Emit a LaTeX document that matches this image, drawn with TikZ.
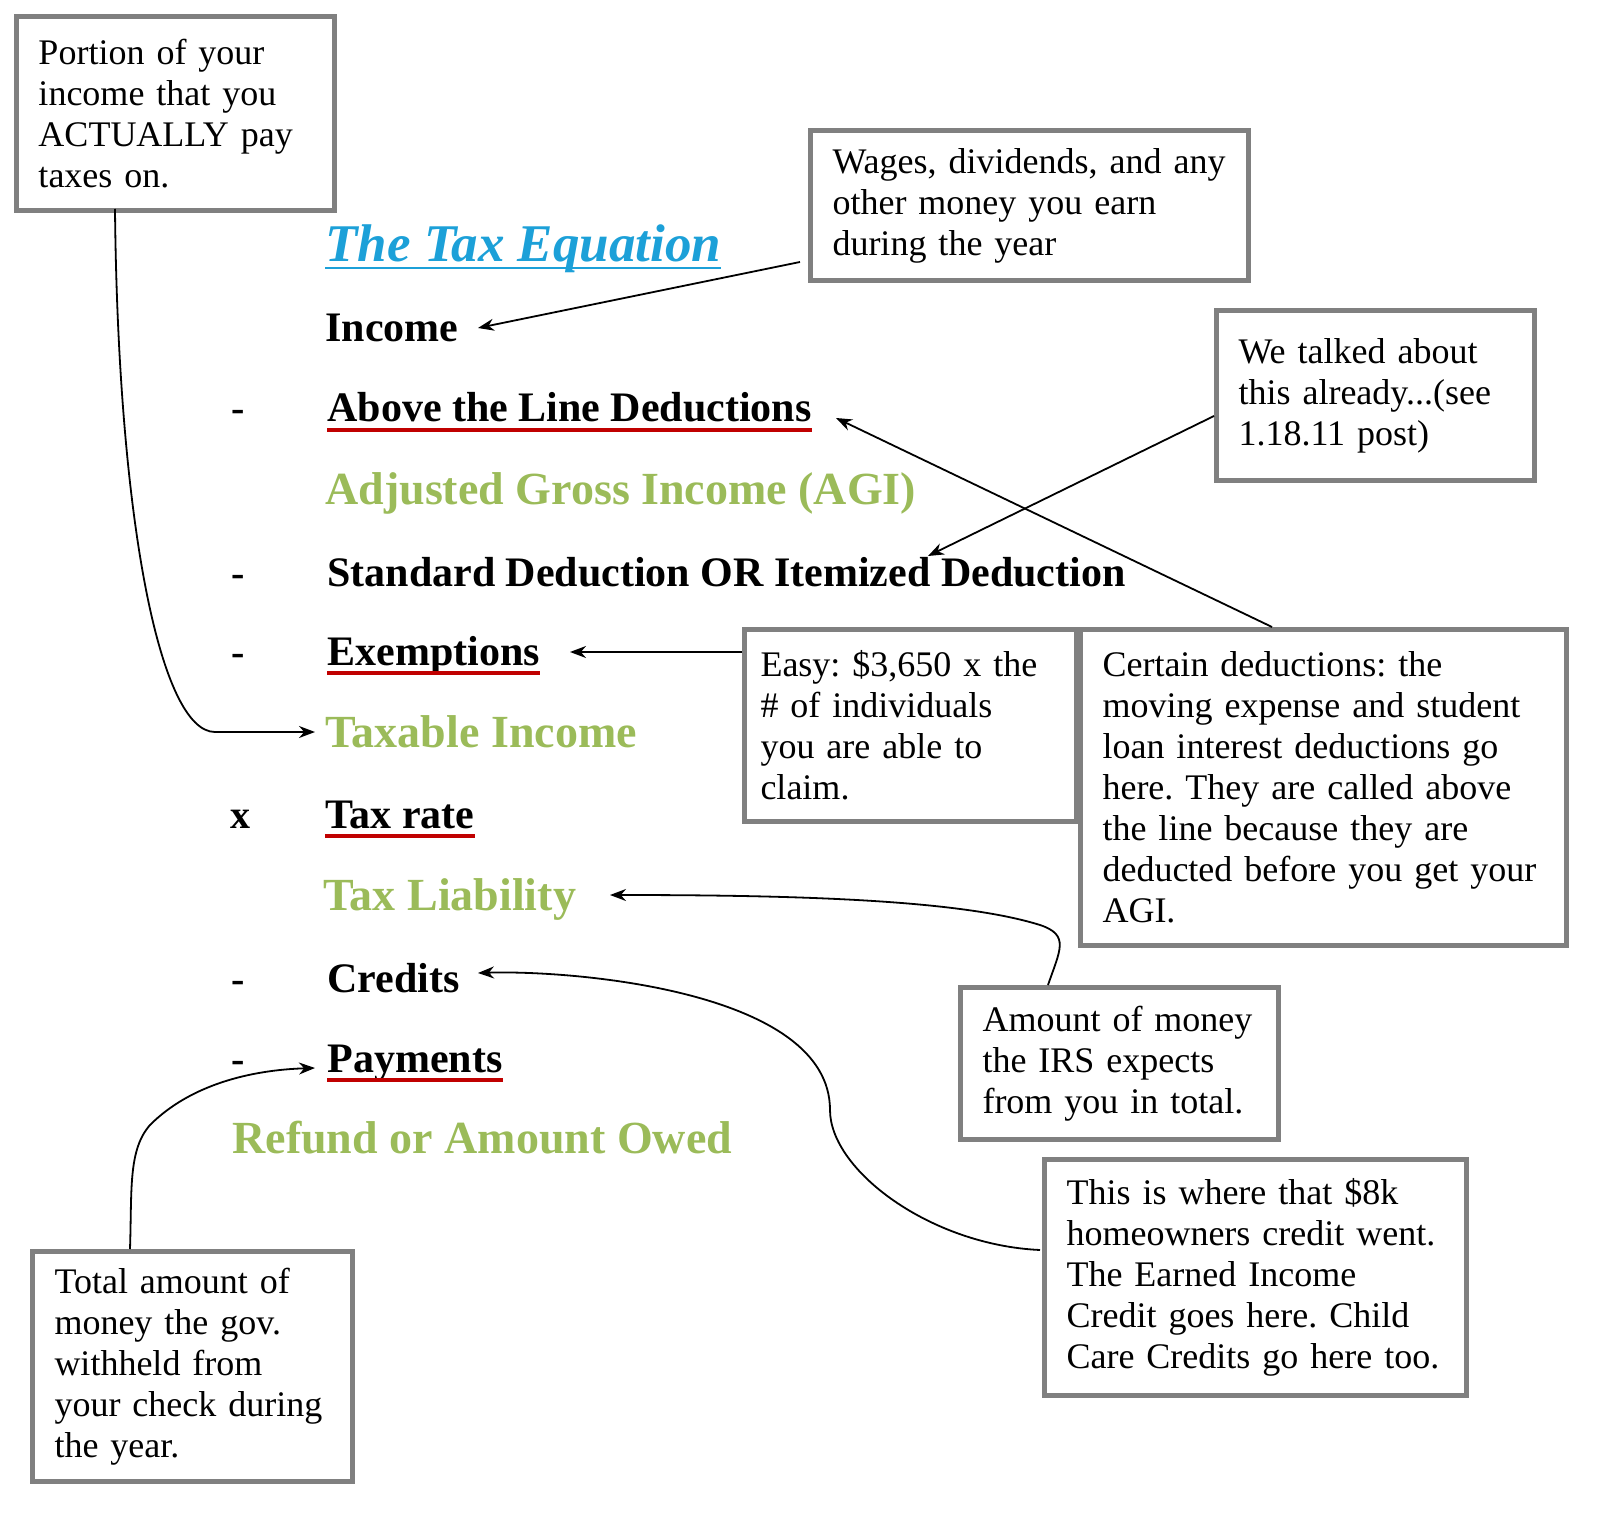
\documentclass[tikz,border=0pt]{standalone}
\usepackage{fontspec}
\setmainfont{Liberation Serif}
\usetikzlibrary{arrows.meta}
\frenchspacing
\definecolor{agreen}{RGB}{155,187,89}
\definecolor{tblue}{RGB}{28,160,216}
\definecolor{ured}{RGB}{192,0,0}
\definecolor{bgray}{RGB}{128,128,128}
\tikzset{
 note/.style={draw=bgray,line width=2.5pt,anchor=north west,inner xsep=11pt,inner ysep=6pt,align=left,font=\fontsize{18}{20.5}\selectfont},
 term/.style={anchor=base west,inner sep=0pt,font=\fontsize{21}{24}\selectfont\bfseries},
 gterm/.style={term,text=agreen,font=\fontsize{23}{26}\selectfont\bfseries},
 op/.style={anchor=base,inner sep=0pt,font=\fontsize{20}{24}\selectfont\bfseries},
 arr/.style={-{Stealth[length=8pt,width=6pt]},line width=0.9pt},
 uline/.style={ured,line width=1.6pt}
}
\begin{document}
\begin{tikzpicture}[x=0.5pt,y=-0.5pt]
\useasboundingbox (0,0) rectangle (1600,1513);
% notes
\node[note,minimum width=159pt,minimum height=97pt,text width=137pt] (b1) at (14,14) {Portion of your\\income that you\\ACTUALLY pay\\taxes on.};
\node[note,minimum width=219pt,minimum height=75pt,text width=197pt] (b2) at (808,128) {Wages, dividends, and any\\other money you earn\\during the year};
\node[note,minimum width=159pt,minimum height=85pt,text width=137pt] (b3) at (1214,308) {We talked about\\this already...(see\\1.18.11 post)};
\node[note,inner xsep=8pt,minimum width=159pt,minimum height=96pt,text width=150pt] (b4) at (742,627) {Easy: \$3,650 x the\\\# of individuals\\you are able to\\claim.};
\node[note,minimum width=243pt,minimum height=158pt,text width=221pt] (b5) at (1078,627) {Certain deductions: the\\moving expense and student\\loan interest deductions go\\here. They are called above\\the line because they are\\deducted before you get your\\AGI.};
\node[note,minimum width=159pt,minimum height=76pt,text width=137pt] (b6) at (958,985) {Amount of money\\the IRS expects\\from you in total.};
\node[note,minimum width=211pt,minimum height=118pt,text width=189pt] (b7) at (1042,1157) {This is where that \$8k\\homeowners credit went.\\The Earned Income\\Credit goes here. Child\\Care Credits go here too.};
\node[note,minimum width=160pt,minimum height=115pt,text width=138pt] (b8) at (30,1249) {Total amount of\\money the gov.\\withheld from\\your check during\\the year.};
% equation
\node[anchor=base west,inner sep=0pt,text=tblue,font=\fontsize{26.5}{30}\selectfont\bfseries\itshape] (title) at (325,262) {The Tax Equation};
\draw[tblue,line width=1.4pt] ([yshift=-3pt]title.base west) -- ([yshift=-3pt]title.base east);
\node[term] (inc) at (325,342) {Income};
\node[term] (atl) at (327,422) {Above the Line Deductions};
\node[gterm] (agi) at (325,505) {Adjusted Gross Income (AGI)};
\node[term] (std) at (327,586) {Standard Deduction OR Itemized Deduction};
\node[term] (ex) at (327,665) {Exemptions};
\node[gterm] (ti) at (325,747) {Taxable Income};
\node[term] (tr) at (325,828) {Tax rate};
\node[gterm] (tl) at (323,910) {Tax Liability};
\node[term] (cr) at (327,992) {Credits};
\node[term] (pay) at (327,1072) {Payments};
\node[gterm] (ref) at (232,1153) {Refund or Amount Owed};
\foreach \n in {atl,ex,tr,pay}{\draw[uline] ([yshift=-4pt]\n.base west) -- ([yshift=-4pt]\n.base east);}
\node[op] (o1) at (238,422) {-};
\node[op] (o2) at (238,586) {-};
\node[op] (o3) at (238,665) {-};
\node[op] (o4) at (240,828) {x};
\node[op] (o5) at (238,992) {-};
\node[op] (o6) at (238,1072) {-};
% arrows
\coordinate (c2) at (800,262);
\coordinate (t2) at (478,328);
\draw[arr] (c2) -- (t2);
\coordinate (c3) at (1214,416);
\coordinate (t3) at (928,556);
\draw[arr] (c3) -- (t3);
\coordinate (c5) at (1272,627);
\coordinate (t5) at (836,418);
\draw[arr] (c5) -- (t5);
\coordinate (c4) at (742,652);
\coordinate (t4) at (570,652);
\draw[arr] (c4) -- (t4);
\coordinate (c1) at (115,209);
\coordinate (t1) at (315,732);
\draw[arr] (c1) .. controls (118,520) and (160,732) .. (215,732) -- (t1);
\coordinate (c6) at (1048,985);
\coordinate (t6) at (610,895);
\draw[arr] (c6) .. controls (1060,950) and (1070,935) .. (1040,925) .. controls (960,900) and (800,895) .. (t6);
\coordinate (c7) at (1040,1250);
\coordinate (t7) at (478,973);
\draw[arr] (c7) .. controls (930,1245) and (830,1170) .. (830,1110) .. controls (830,990) and (570,970) .. (t7);
\coordinate (c8) at (130,1249);
\coordinate (t8) at (315,1068);
\draw[arr] (c8) .. controls (132,1190) and (128,1150) .. (150,1125) .. controls (190,1085) and (250,1070) .. (t8);
\end{tikzpicture}
\end{document}
